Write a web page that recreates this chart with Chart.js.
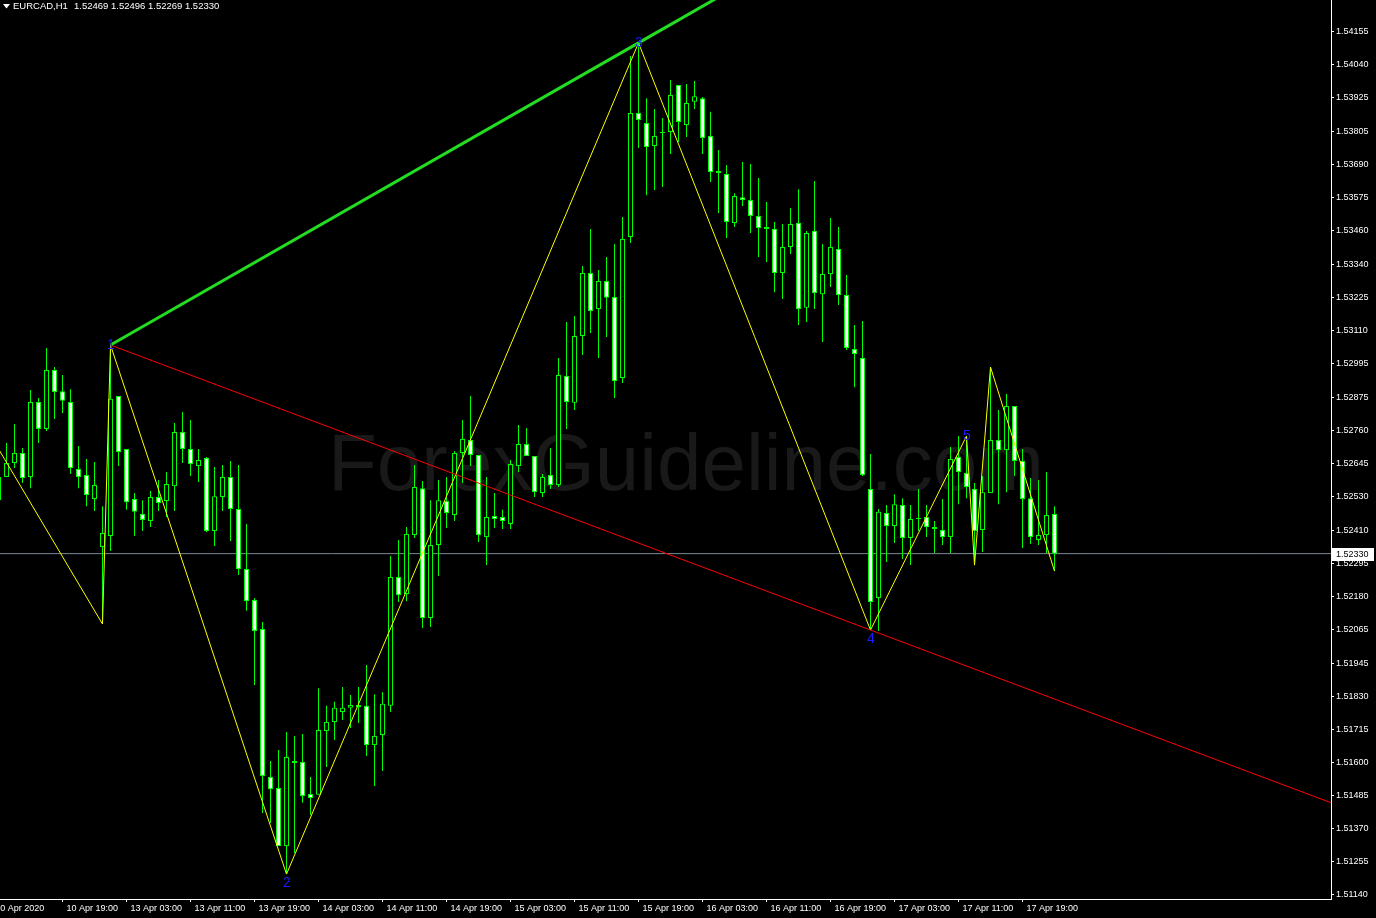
<!DOCTYPE html>
<html><head><meta charset="utf-8">
<script src="https://cdn.jsdelivr.net/npm/chart.js@4.4.1/dist/chart.umd.min.js"></script>
<style>html,body{margin:0;padding:0;background:#000;overflow:hidden}#wrap{width:1376px;height:918px}</style>
</head><body><div id="wrap"><canvas id="c" width="1376" height="918"></canvas></div>
<script>
const symbolTitle = 'EURCAD,H1';
const watermark = 'ForexGuideline.com';
// bar index (0 = 10 Apr 12:00, hourly bars, weekend skipped)
const barIdx = Array.from({length: 133}, (_, i) => i - 1);
const opens = [1.52598,1.52598,1.52647,1.52682,1.52598,1.52860,1.52766,1.52972,1.52898,1.52860,1.52626,1.52605,1.52521,1.52353,1.52392,1.52881,1.52696,1.52521,1.52469,1.52444,1.52528,1.52514,1.52566,1.52755,1.52696,1.52636,1.52664,1.52409,1.52528,1.52598,1.52486,1.52276,1.52168,1.52067,1.51549,1.51511,1.51308,1.51605,1.51602,1.51490,1.51487,1.51710,1.51742,1.51777,1.51791,1.51794,1.51798,1.51661,1.51696,1.51798,1.52248,1.52189,1.52395,1.52559,1.52105,1.52360,1.52514,1.52465,1.52682,1.52727,1.52675,1.52388,1.52462,1.52458,1.52434,1.52636,1.52713,1.52671,1.52542,1.52605,1.52570,1.52951,1.52857,1.53091,1.53311,1.53185,1.53283,1.53227,1.52944,1.53437,1.53870,1.53835,1.53755,1.53800,1.53804,1.53968,1.53828,1.53909,1.53922,1.53790,1.53667,1.53657,1.53486,1.53576,1.53566,1.53510,1.53472,1.53465,1.53311,1.53402,1.53486,1.53189,1.53458,1.53237,1.53307,1.53395,1.53234,1.53045,1.53014,1.52556,1.52175,1.52472,1.52427,1.52500,1.52385,1.52451,1.52458,1.52423,1.52413,1.52388,1.52668,1.52612,1.52556,1.52413,1.52542,1.52727,1.52692,1.52846,1.52654,1.52524,1.52378,1.52395,1.52469];
const highs = [1.52696,1.52717,1.52783,1.52699,1.52902,1.52874,1.53049,1.52982,1.52954,1.52905,1.52706,1.52661,1.52650,1.52496,1.53059,1.52881,1.52696,1.52542,1.52517,1.52549,1.52587,1.52615,1.52787,1.52825,1.52797,1.52696,1.52668,1.52633,1.52640,1.52654,1.52640,1.52434,1.52175,1.52091,1.51605,1.51644,1.51707,1.51693,1.51700,1.51549,1.51860,1.51798,1.51812,1.51864,1.51836,1.51864,1.51941,1.51839,1.51846,1.52322,1.52378,1.52423,1.52640,1.52584,1.52517,1.52587,1.52598,1.52689,1.52797,1.52881,1.52675,1.52598,1.52542,1.52483,1.52657,1.52780,1.52769,1.52671,1.52608,1.52699,1.53014,1.53140,1.53161,1.53335,1.53465,1.53321,1.53367,1.53412,1.53507,1.54069,1.54115,1.53922,1.53884,1.53853,1.53985,1.53968,1.53971,1.53982,1.53926,1.53874,1.53741,1.53688,1.53590,1.53699,1.53692,1.53643,1.53559,1.53489,1.53482,1.53538,1.53604,1.53458,1.53632,1.53412,1.53503,1.53472,1.53304,1.53129,1.53143,1.52678,1.52486,1.52500,1.52538,1.52524,1.52500,1.52556,1.52500,1.52444,1.52521,1.52703,1.52741,1.52741,1.52577,1.52601,1.52982,1.52832,1.52888,1.52846,1.52696,1.52594,1.52587,1.52615,1.52496];
const lows = [1.52500,1.52598,1.52629,1.52577,1.52559,1.52717,1.52759,1.52801,1.52822,1.52608,1.52559,1.52496,1.52479,1.52084,1.52339,1.52636,1.52483,1.52392,1.52409,1.52423,1.52479,1.52458,1.52479,1.52647,1.52601,1.52580,1.52406,1.52357,1.52479,1.52374,1.52255,1.52130,1.51871,1.51424,1.51389,1.51308,1.51210,1.51284,1.51459,1.51417,1.51487,1.51584,1.51679,1.51749,1.51721,1.51738,1.51623,1.51518,1.51570,1.51777,1.52161,1.52164,1.52385,1.52070,1.52074,1.52252,1.52420,1.52444,1.52577,1.52636,1.52371,1.52290,1.52420,1.52416,1.52416,1.52615,1.52671,1.52528,1.52528,1.52556,1.52563,1.52766,1.52832,1.53024,1.53101,1.53014,1.53087,1.52874,1.52926,1.53416,1.53748,1.53583,1.53601,1.53611,1.53727,1.53769,1.53786,1.53884,1.53727,1.53629,1.53521,1.53433,1.53472,1.53545,1.53451,1.53367,1.53349,1.53244,1.53220,1.53377,1.53129,1.53140,1.53185,1.53070,1.53262,1.53199,1.53042,1.52912,1.52601,1.52063,1.52060,1.52301,1.52367,1.52311,1.52290,1.52409,1.52388,1.52332,1.52360,1.52332,1.52503,1.52524,1.52290,1.52336,1.52542,1.52503,1.52545,1.52601,1.52350,1.52364,1.52360,1.52332,1.52269];
const closes = [1.52517,1.52647,1.52682,1.52594,1.52860,1.52766,1.52972,1.52895,1.52864,1.52629,1.52598,1.52535,1.52570,1.52402,1.52871,1.52685,1.52510,1.52476,1.52448,1.52528,1.52507,1.52573,1.52755,1.52696,1.52643,1.52657,1.52409,1.52531,1.52598,1.52486,1.52276,1.52164,1.52060,1.51553,1.51507,1.51308,1.51619,1.51598,1.51483,1.51476,1.51714,1.51742,1.51791,1.51791,1.51801,1.51801,1.51661,1.51693,1.51805,1.52248,1.52185,1.52399,1.52563,1.52105,1.52360,1.52517,1.52472,1.52682,1.52731,1.52675,1.52395,1.52458,1.52451,1.52444,1.52643,1.52713,1.52671,1.52545,1.52598,1.52570,1.52954,1.52860,1.53091,1.53311,1.53178,1.53283,1.53224,1.52933,1.53430,1.53870,1.53846,1.53751,1.53790,1.53800,1.53933,1.53839,1.53905,1.53929,1.53783,1.53664,1.53660,1.53489,1.53580,1.53566,1.53510,1.53468,1.53465,1.53311,1.53402,1.53482,1.53185,1.53451,1.53241,1.53307,1.53402,1.53234,1.53049,1.53028,1.52605,1.52161,1.52476,1.52427,1.52503,1.52385,1.52451,1.52451,1.52423,1.52416,1.52388,1.52661,1.52615,1.52563,1.52409,1.52545,1.52727,1.52692,1.52846,1.52654,1.52521,1.52388,1.52395,1.52465,1.52330];
const timeTickIdx = [-1.9,7,15,23,31,39,47,55,63,71,79,87,95,103,111,119,127];
const timeTickLabels = ['10 Apr 2020','10 Apr 19:00','13 Apr 03:00','13 Apr 11:00','13 Apr 19:00','14 Apr 03:00','14 Apr 11:00','14 Apr 19:00','15 Apr 03:00','15 Apr 11:00','15 Apr 19:00','16 Apr 03:00','16 Apr 11:00','16 Apr 19:00','17 Apr 03:00','17 Apr 11:00','17 Apr 19:00'];
const priceTicks = [1.54155,1.54040,1.53925,1.53805,1.53690,1.53575,1.53460,1.53340,1.53225,1.53110,1.52995,1.52875,1.52760,1.52645,1.52530,1.52410,1.52295,1.52180,1.52065,1.51945,1.51830,1.51715,1.51600,1.51485,1.51370,1.51255,1.51140];
const zigzagIdx = [-1,12,13,35,79,108,120,121,123,131];
const zigzagPrice = [1.52696,1.52084,1.53059,1.51210,1.54115,1.52063,1.52741,1.52290,1.52982,1.52269];
const waveIdx = [13,35,79,108,120];
const waveText = ['1','2','3','4','5'];
const waveAtLow = [false,true,false,true,false];
const greenRayIdx = [13,79];
const redRayIdx = [13,108];

const X_MIN = -0.8125, X_MAX = 165.5625, Y_MIN = 1.51123, Y_MAX = 1.54265;
const FONT = 'Liberation Sans';
const pos = i => barIdx.indexOf(i);
function ray(iA, pA, iB, pB) {
  const slope = (pB - pA) / (iB - iA);
  return [{x: iA, y: pA}, {x: iB, y: pB}, {x: X_MAX, y: pB + slope * (X_MAX - iB)}];
}
const wickData = barIdx.map((x, i) => ({x, y: [lows[i], highs[i]]}));
const bodyData = barIdx.map((x, i) => ({x, y: [opens[i], closes[i]]}));
const bodyFill = barIdx.map((x, i) => closes[i] >= opens[i] ? '#000000' : '#ffffff');
const lastClose = closes[closes.length - 1];

const bgPlugin = {
  id: 'bg',
  beforeDraw(chart) {
    const {ctx} = chart;
    ctx.save(); ctx.fillStyle = '#000'; ctx.fillRect(0, 0, chart.width, chart.height); ctx.restore();
  },
  beforeDatasetsDraw(chart) {
    const {ctx} = chart;
    ctx.save();
    ctx.font = '80px "' + FONT + '"';
    ctx.fillStyle = '#191919';
    ctx.textBaseline = 'alphabetic';
    ctx.fillText(watermark, 328, 490);
    ctx.restore();
  },
  afterDraw(chart) {
    const {ctx, scales} = chart;
    const xs = scales.x, ys = scales.y;
    ctx.save();
    // wave labels
    ctx.font = '14px "' + FONT + '"';
    ctx.fillStyle = '#1c1cff';
    ctx.textAlign = 'center';
    waveIdx.forEach((wi, k) => {
      const p = pos(wi);
      const px = xs.getPixelForValue(wi);
      if (waveAtLow[k]) { ctx.textBaseline = 'top'; ctx.fillText(waveText[k], px + 0.5, ys.getPixelForValue(lows[p]) + 2); }
      else { ctx.textBaseline = 'middle'; ctx.fillText(waveText[k], px + 0.5, ys.getPixelForValue(highs[p])); }
    });
    // header
    ctx.fillStyle = '#ffffff';
    ctx.beginPath(); ctx.moveTo(3, 4); ctx.lineTo(10, 4); ctx.lineTo(6.5, 8.5); ctx.closePath(); ctx.fill();
    ctx.font = '9.5px "' + FONT + '"';
    ctx.textAlign = 'left'; ctx.textBaseline = 'middle';
    ctx.fillText(symbolTitle, 13, 6.5);
    ctx.fillText([opens, highs, lows, closes].map(a => a[a.length - 1].toFixed(5)).join(' '), 74, 6.5);
    // current price tag
    const py = Math.round(ys.getPixelForValue(lastClose));
    ctx.fillStyle = '#ffffff';
    ctx.fillRect(1332, py - 6, 42, 13);
    ctx.fillStyle = '#000000';
    ctx.font = '9px "' + FONT + '"';
    ctx.fillText(lastClose.toFixed(5), 1336, py + 0.5);
    ctx.restore();
  }
};

new Chart(document.getElementById('c'), {
  type: 'bar',
  data: {
    datasets: [
      {type: 'line', data: ray(greenRayIdx[0], highs[pos(greenRayIdx[0])], greenRayIdx[1], highs[pos(greenRayIdx[1])]), borderColor: '#22dd22', borderWidth: 3, pointRadius: 0, order: 0},
      {type: 'line', data: ray(redRayIdx[0], highs[pos(redRayIdx[0])], redRayIdx[1], lows[pos(redRayIdx[1])]), borderColor: '#ff0000', borderWidth: 1, pointRadius: 0, order: 0},
      {type: 'line', data: zigzagIdx.map((x, k) => ({x, y: zigzagPrice[k]})), borderColor: '#ffff00', borderWidth: 1, pointRadius: 0, order: 0},
      {type: 'line', data: [{x: X_MIN, y: lastClose}, {x: X_MAX, y: lastClose}], borderColor: '#778899', borderWidth: 1, pointRadius: 0, order: 3},
      {type: 'bar', data: bodyData, backgroundColor: bodyFill, borderColor: '#00ff00', borderWidth: 1, borderSkipped: false, grouped: false, barThickness: 5, maxBarThickness: 5, minBarLength: 1, inflateAmount: 0, order: 1},
      {type: 'bar', data: wickData, backgroundColor: '#00ff00', borderWidth: 0, grouped: false, barThickness: 1, maxBarThickness: 1, inflateAmount: 0, order: 2}
    ]
  },
  options: {
    responsive: false, animation: false, devicePixelRatio: 1,
    layout: {padding: 0},
    plugins: {legend: {display: false}, tooltip: {enabled: false}},
    scales: {
      x: {
        type: 'linear', position: 'bottom', min: X_MIN, max: X_MAX, offset: false,
        afterBuildTicks: s => { s.ticks = timeTickIdx.map(v => ({value: v})); },
        afterFit: s => { s.height = 19; s.paddingLeft = 0; s.paddingRight = 0; },
        ticks: {autoSkip: false, maxRotation: 0, minRotation: 0, align: 'start', labelOffset: 4, padding: 1, color: '#ffffff', font: {family: FONT, size: 9}, callback: (v, i) => timeTickLabels[i]},
        grid: {offset: false, drawOnChartArea: false, drawTicks: true, tickLength: 3, color: '#ffffff'},
        border: {display: true, color: '#ffffff', width: 1}
      },
      y: {
        type: 'linear', position: 'right', min: Y_MIN, max: Y_MAX, beginAtZero: false,
        afterBuildTicks: s => { s.ticks = priceTicks.map(v => ({value: v})); },
        afterFit: s => { s.width = 45; s.paddingTop = 0; s.paddingBottom = 0; },
        ticks: {autoSkip: false, padding: 2, color: '#ffffff', font: {family: FONT, size: 9}, callback: v => v.toFixed(5)},
        grid: {drawOnChartArea: false, drawTicks: true, tickLength: 3, color: '#ffffff'},
        border: {display: true, color: '#ffffff', width: 1}
      }
    }
  },
  plugins: [bgPlugin]
});
</script></body></html>
